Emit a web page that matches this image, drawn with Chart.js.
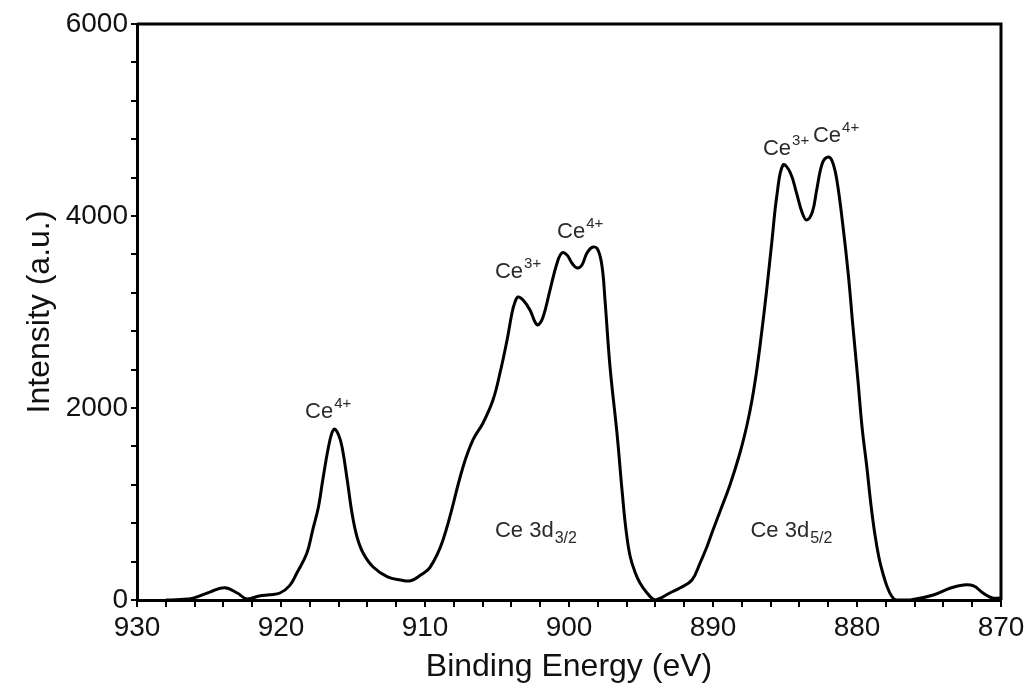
<!DOCTYPE html>
<html><head><meta charset="utf-8">
<script src="https://cdn.jsdelivr.net/npm/chart.js@4.4.0/dist/chart.umd.min.js"></script>
<style>html,body{margin:0;padding:0;background:#fff}#wrap{width:1026px;height:690px}</style>
</head><body><div id="wrap"><canvas id="c" width="1026" height="690"></canvas></div>
<script>
// Binding energy (eV) and intensity (a.u.)
const bindingEnergy = [
  928.0, 927.0, 926.1, 924.9, 923.9, 923.0, 922.4, 921.5, 920.8, 920.07,
  919.4, 918.9, 918.2, 917.8, 917.4, 917.1, 916.6, 916.3, 916.0, 915.76,
  915.4, 915.07, 914.72, 914.3, 913.6, 912.6, 911.7, 911.0, 910.3, 909.65,
  908.75, 907.36, 906.67, 905.97, 905.28, 904.79, 904.3, 903.96, 903.75, 903.54,
  903.19, 902.71, 902.36, 902.15, 901.8, 901.32, 900.83, 900.49, 900.14, 899.8,
  899.44, 899.1, 898.75, 898.33, 897.99, 897.7, 897.5, 897.15, 896.67, 896.3,
  896.04, 895.76, 895.42, 895.07, 894.58, 894.03, 893.5, 893.0, 892.3, 891.46,
  890.9, 890.4, 890.0, 889.5, 888.8, 888.13, 887.64, 887.29, 886.94, 886.6,
  886.25, 885.9, 885.56, 885.14, 884.65, 884.2, 883.8, 883.5, 883.1, 882.8,
  882.4, 882.0, 881.7, 881.4, 881.0, 880.6, 880.28, 879.93, 879.65, 879.31,
  879.03, 878.75, 878.47, 878.19, 877.9, 877.6, 877.3, 876.3, 874.7, 873.5,
  872.6, 871.9, 871.25, 870.6, 870.07];
const intensity = [
  0, 5, 20, 85, 128, 70, 12, 42, 55, 73,
  150, 281, 490, 729, 969, 1250, 1667, 1781, 1719, 1594,
  1250, 906, 656, 490, 344, 240, 208, 200, 260, 340,
  625, 1385, 1667, 1844, 2083, 2365, 2708, 2990, 3104, 3156,
  3125, 3021, 2896, 2865, 2948, 3229, 3510, 3615, 3594, 3510,
  3458, 3490, 3615, 3677, 3646, 3469, 3125, 2427, 1740, 1115,
  729, 458, 292, 177, 73, 0, 31, 73, 125, 208,
  385, 563, 729, 927, 1208, 1531, 1823, 2083, 2417, 2813,
  3260, 3750, 4219, 4531, 4458, 4240, 4031, 3958, 4042, 4271,
  4552, 4615, 4563, 4375, 3927, 3385, 2844, 2281, 1802, 1375,
  990, 677, 438, 271, 135, 42, 0, 0, 52, 125,
  156, 146, 73, 21, 21];
const xTickLabels = [930, 920, 910, 900, 890, 880, 870];
const yTickLabels = [0, 2000, 4000, 6000];

// Peak annotations (text anchored at left/baseline, in data coordinates)
const annoBase = ['Ce', 'Ce', 'Ce', 'Ce', 'Ce', 'Ce 3d', 'Ce 3d'];
const annoSup  = ['4+', '3+', '4+', '3+', '4+', '', ''];
const annoSub  = ['', '', '', '', '', '3/2', '5/2'];
const annoX    = [918.33, 905.14, 900.83, 886.53, 883.06, 905.14, 887.4];
const annoY    = [1896, 3354, 3771, 4635, 4771, 656, 656];

const FONT = '"Liberation Sans", Arial, Helvetica, sans-serif';

const framePlugin = {
  id: 'frame',
  afterDraw(chart) {
    const {ctx, chartArea: a} = chart;
    ctx.save();
    ctx.strokeStyle = '#000';
    ctx.lineWidth = 3;
    ctx.beginPath();
    ctx.moveTo(a.left, a.top);
    ctx.lineTo(a.right, a.top);
    ctx.lineTo(a.right, a.bottom);
    ctx.stroke();
    ctx.restore();
  }
};

const annoPlugin = {
  id: 'anno',
  afterDatasetsDraw(chart) {
    const {ctx, scales: {x, y}} = chart;
    ctx.save();
    ctx.fillStyle = '#2a2a2a';
    ctx.textBaseline = 'alphabetic';
    ctx.textAlign = 'left';
    for (let i = 0; i < annoBase.length; i++) {
      let px = x.getPixelForValue(annoX[i]);
      const py = y.getPixelForValue(annoY[i]);
      ctx.font = '22px ' + FONT;
      ctx.fillText(annoBase[i], px, py);
      px += ctx.measureText(annoBase[i]).width;
      if (annoSup[i]) {
        ctx.font = '15px ' + FONT;
        ctx.fillText(annoSup[i], px + 1, py - 10);
      }
      if (annoSub[i]) {
        ctx.font = '16px ' + FONT;
        ctx.fillText(annoSub[i], px + 1, py + 6);
      }
    }
    ctx.restore();
  }
};

new Chart(document.getElementById('c'), {
  type: 'line',
  data: {
    datasets: [{
      data: bindingEnergy.map((e, i) => ({x: e, y: intensity[i]})),
      borderColor: '#000',
      borderWidth: 3,
      pointRadius: 0,
      fill: false,
      tension: 0.4
    }]
  },
  options: {
    responsive: false,
    animation: false,
    layout: {padding: {top: 24, right: 25, left: 0, bottom: 0}},
    plugins: {legend: {display: false}, tooltip: {enabled: false}},
    scales: {
      x: {
        type: 'linear',
        reverse: true,
        min: 870, max: 930,
        afterFit(s) { s.height = 90; },
        afterBuildTicks(s) {
          const t = [];
          for (let v = 870; v <= 930; v += 2) t.push({value: v});
          s.ticks = t;
        },
        ticks: {
          autoSkip: false, maxRotation: 0, padding: 4,
          color: '#111', font: {family: FONT, size: 28},
          callback: v => xTickLabels.includes(v) ? String(v) : ''
        },
        grid: {drawOnChartArea: false, drawTicks: true, tickLength: 7, color: '#000', lineWidth: 2},
        border: {display: true, color: '#000', width: 3},
        title: {display: true, text: 'Binding Energy (eV)', color: '#111',
          font: {family: FONT, size: 32}, padding: {top: 0, bottom: 4}}
      },
      y: {
        type: 'linear',
        min: 0, max: 6000,
        afterFit(s) { s.width = 137; },
        afterBuildTicks(s) {
          const t = [];
          for (let v = 0; v <= 6000; v += 400) t.push({value: v});
          s.ticks = t;
        },
        ticks: {
          autoSkip: false, padding: 3,
          color: '#111', font: {family: FONT, size: 28},
          callback: v => yTickLabels.includes(v) ? String(v) : ''
        },
        grid: {drawOnChartArea: false, drawTicks: true, tickLength: 6, color: '#000', lineWidth: 2},
        border: {display: true, color: '#000', width: 3},
        title: {display: true, text: 'Intensity (a.u.)', color: '#111',
          font: {family: FONT, size: 32}, padding: {top: 21, bottom: 0}}
      }
    }
  },
  plugins: [framePlugin, annoPlugin]
});
</script>
</body></html>
